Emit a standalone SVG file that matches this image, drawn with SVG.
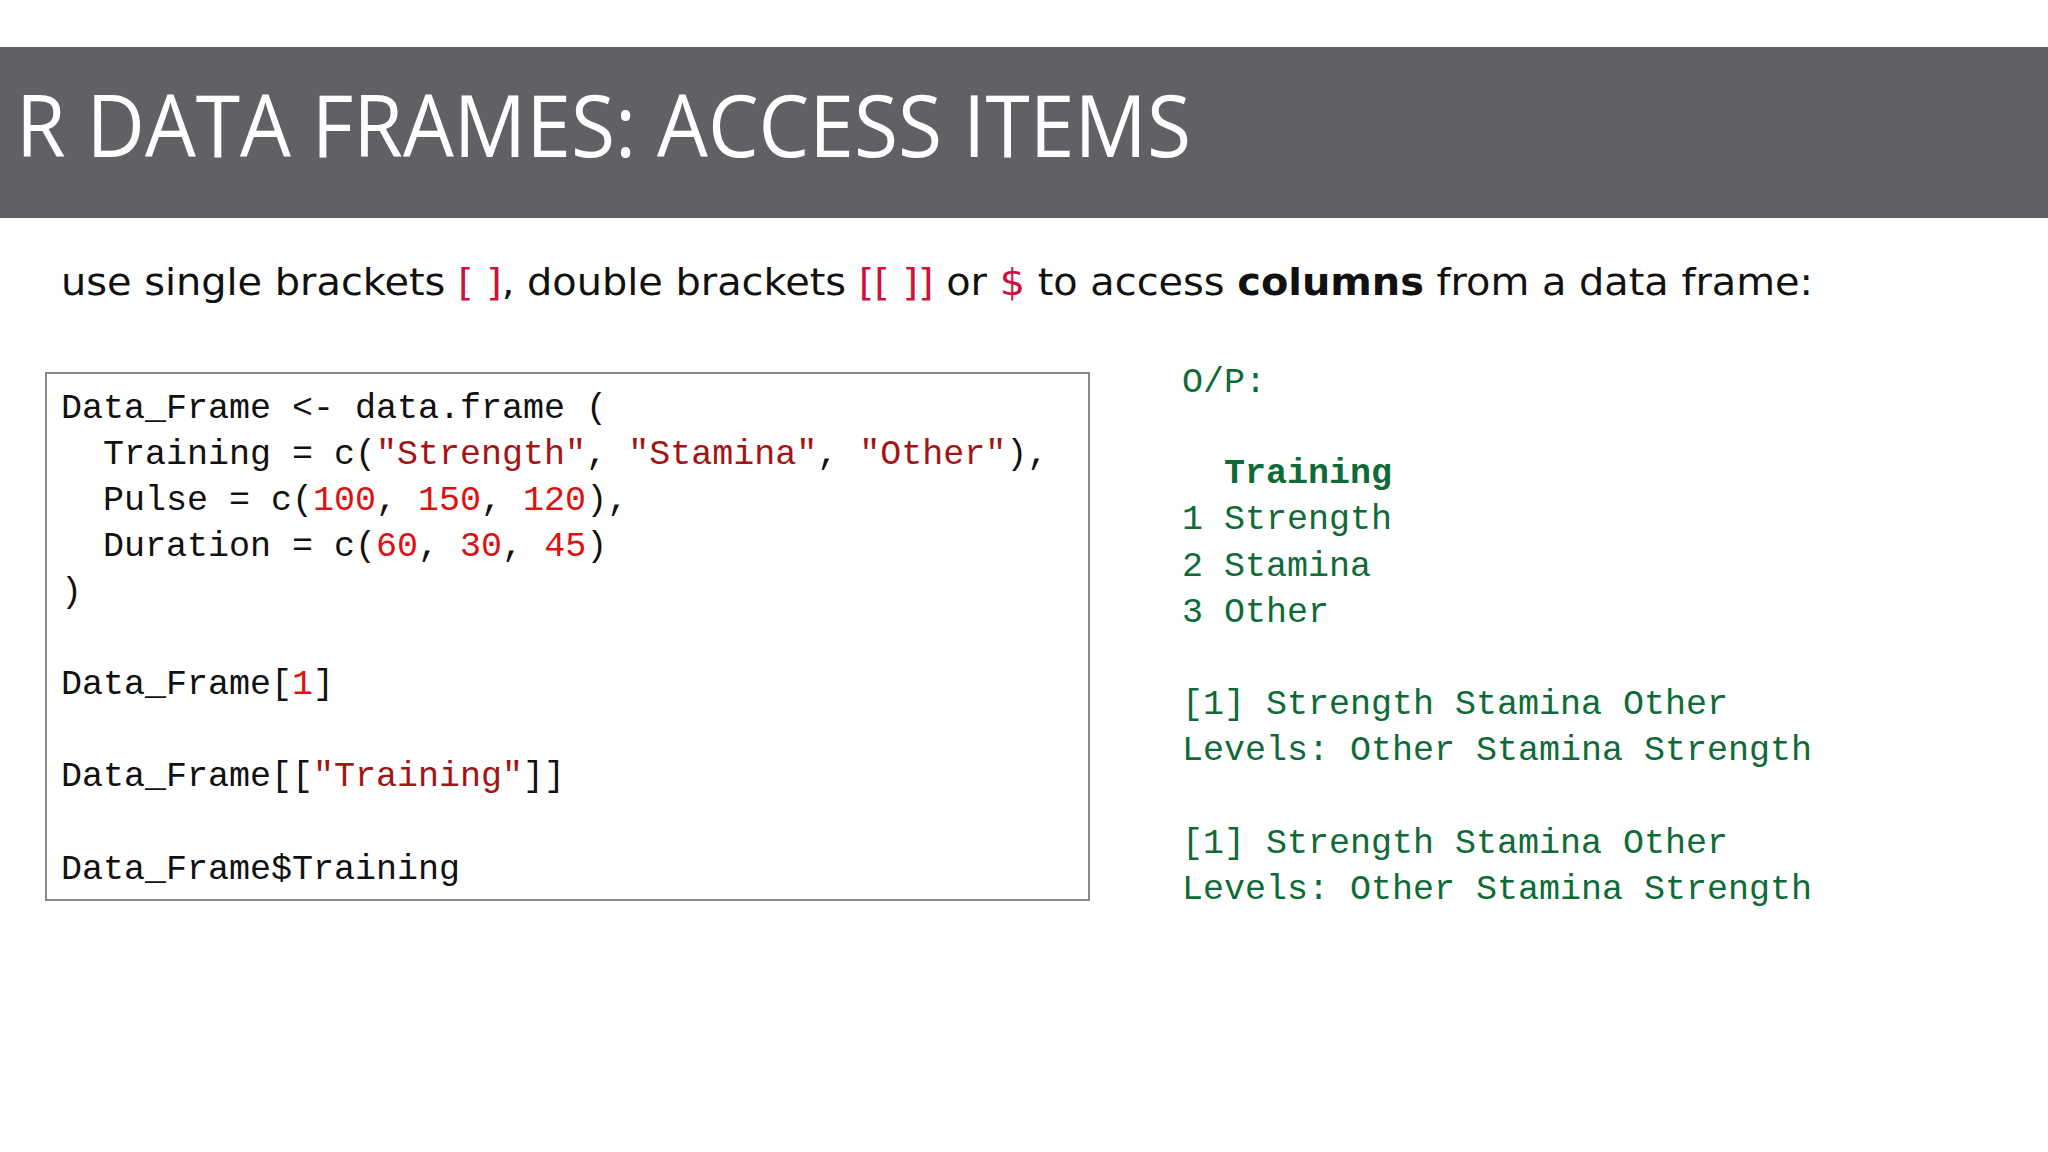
<svg xmlns="http://www.w3.org/2000/svg" width="2048" height="1152" viewBox="0 0 2048 1152">
<style>
.c{font-family:"Liberation Mono",monospace;font-size:35px;fill:#111;white-space:pre}
.o{font-family:"Liberation Mono",monospace;font-size:35px;fill:#0e6b37;white-space:pre}
.n{fill:#e01010}.s{fill:#a31515}.r{fill:#d0103a}
</style>
<rect width="2048" height="1152" fill="#fff"/>
<g id="header"><rect x="0" y="47" width="2048" height="171" fill="#616165"/>
<text x="16" y="157" font-family="Open Sans, sans-serif" font-size="86" fill="#fff" textLength="1175" lengthAdjust="spacingAndGlyphs">R DATA FRAMES: ACCESS ITEMS</text></g>
<g id="subtitle"><text x="61" y="295" font-family="DejaVu Sans, sans-serif" font-size="38" fill="#111" textLength="1752" lengthAdjust="spacingAndGlyphs" xml:space="preserve">use single brackets <tspan class="r">[ ]</tspan>, double brackets <tspan class="r">[[ ]]</tspan> or <tspan class="r">$</tspan> to access <tspan font-weight="bold">columns</tspan> from a data frame:</text></g>
<g id="code"><rect x="46" y="373" width="1043" height="527" fill="#fff" stroke="#888" stroke-width="2"/>
<text class="c" x="61" y="418" xml:space="preserve">Data_Frame &lt;- data.frame (</text>
<text class="c" x="61" y="464" xml:space="preserve">  Training = c(<tspan class="s">"Strength"</tspan>, <tspan class="s">"Stamina"</tspan>, <tspan class="s">"Other"</tspan>),</text>
<text class="c" x="61" y="510" xml:space="preserve">  Pulse = c(<tspan class="n">100</tspan>, <tspan class="n">150</tspan>, <tspan class="n">120</tspan>),</text>
<text class="c" x="61" y="556" xml:space="preserve">  Duration = c(<tspan class="n">60</tspan>, <tspan class="n">30</tspan>, <tspan class="n">45</tspan>)</text>
<text class="c" x="61" y="602">)</text>
<text class="c" x="61" y="694">Data_Frame[<tspan class="n">1</tspan>]</text>
<text class="c" x="61" y="786">Data_Frame[[<tspan class="s">"Training"</tspan>]]</text>
<text class="c" x="61" y="879">Data_Frame$Training</text></g>
<g id="output">
<text class="o" x="1182" y="392">O/P:</text>
<text class="o" x="1224" y="483" font-weight="bold">Training</text>
<text class="o" x="1182" y="529">1 Strength</text>
<text class="o" x="1182" y="576">2 Stamina</text>
<text class="o" x="1182" y="622">3 Other</text>
<text class="o" x="1182" y="714">[1] Strength Stamina Other</text>
<text class="o" x="1182" y="760">Levels: Other Stamina Strength</text>
<text class="o" x="1182" y="853">[1] Strength Stamina Other</text>
<text class="o" x="1182" y="899">Levels: Other Stamina Strength</text></g>
</svg>
